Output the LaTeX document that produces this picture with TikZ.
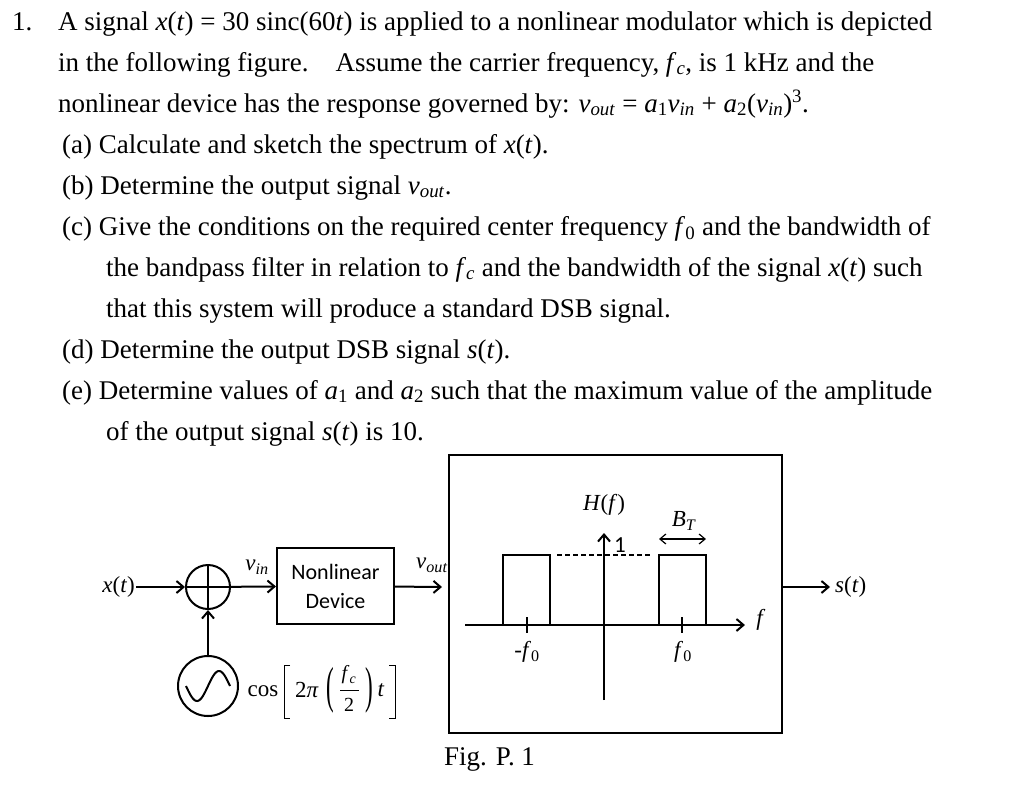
\documentclass[tikz,border=0pt]{standalone}
\usepackage{fontspec}
\setmainfont{Liberation Serif}
\setsansfont{Carlito}
\newfontfamily\labfont{Liberation Serif}
\usetikzlibrary{arrows.meta}
\newcommand{\iv}[1]{\textit{#1}}
\newcommand{\sbs}[1]{\textsubscript{#1}}
\begin{document}
\begin{tikzpicture}[x=1pt,y=-1pt,
  txt/.style={anchor=base west,inner sep=0pt,font=\rmfamily\fontsize{27}{27}\selectfont},
  lab/.style={inner sep=1pt,font=\labfont\fontsize{23}{23}\selectfont},
  ln/.style={line width=2pt},
  arr/.style={ln,-{Straight Barb[length=7pt,width=12pt,line width=2pt]}}]
\useasboundingbox (0,0) rectangle (1024,806);
\node[txt] (n1) at (12,30) {1.};
\node[txt] (l1) at (58,30) {A signal \iv{x}(\iv{t}) = 30 sinc(60\iv{t}) is applied to a nonlinear modulator which is depicted};
\node[txt] (l2) at (58,71) {in the following figure.\quad Assume the carrier frequency, \iv{f}\sbs{\iv{c}}, is 1 kHz and the};
\node[txt] (l3) at (58,112) {nonlinear device has the response governed by: \iv{v}\sbs{\iv{out}} = \iv{a}\sbs{1}\iv{v}\sbs{\iv{in}} + \iv{a}\sbs{2}(\iv{v}\sbs{\iv{in}})\textsuperscript{3}.};
\node[txt] (l4) at (62,153) {(a) Calculate and sketch the spectrum of \iv{x}(\iv{t}).};
\node[txt] (l5) at (62,194) {(b) Determine the output signal \iv{v}\sbs{\iv{out}}.};
\node[txt] (l6) at (62,235) {(c) Give the conditions on the required center frequency \iv{f}\sbs{0} and the bandwidth of};
\node[txt] (l7) at (106,276) {the bandpass filter in relation to \iv{f}\sbs{\iv{c}} and the bandwidth of the signal \iv{x}(\iv{t}) such};
\node[txt] (l8) at (106,317) {that this system will produce a standard DSB signal.};
\node[txt] (l9) at (62,358) {(d) Determine the output DSB signal \iv{s}(\iv{t}).};
\node[txt] (l10) at (62,399) {(e) Determine values of \iv{a}\sbs{1} and \iv{a}\sbs{2} such that the maximum value of the amplitude};
\node[txt] (l11) at (106,440) {of the output signal \iv{s}(\iv{t}) is 10.};

% filter box
\node[draw,ln,minimum width=333pt,minimum height=278pt,inner sep=0pt] (bpf) at (615.5,594) {};
\node[txt] (fig) at (444,765) {Fig. P. 1};

% modulator
\node[lab,anchor=east] (x) at (136,587) {\iv{x}(\iv{t})};
\node[draw,ln,circle,minimum size=44pt,inner sep=0pt] (sum) at (208,587) {};
\draw[ln] (sum.north) -- (sum.south) (sum.west) -- (sum.east);
\node[draw,ln,circle,minimum size=60pt,inner sep=0pt] (osc) at (208,686) {};
\draw[ln] plot[domain=-22:22,samples=40] ({208+\x},{686-15*sin(\x*8.18)});
\node[draw,ln,minimum width=117pt,minimum height=76pt,inner sep=0pt,align=center,font=\sffamily\fontsize{22}{29}\selectfont] (nl) at (335.5,586) {Nonlinear\\Device};
\draw[arr] (x) -- (sum);
\draw[arr] (osc) -- (sum);
\draw[arr] (sum) -- (nl);
\coordinate (vo) at (442,587);
\draw[arr] (nl) -- (vo);
\node[lab] (vin) at (257,567) {\iv{v}\sbs{\iv{in}}};
\node[lab] (vout) at (432,565) {\iv{v}\sbs{\iv{out}}};
% cos[2 pi (fc/2) t]
\node[lab] (cos) at (263,691) {cos};
\draw[line width=1pt] (290,665) -- (284,665) -- (284,718) -- (290,718);
\draw[line width=1pt] (389,665) -- (395,665) -- (395,718) -- (389,718);
\node[lab] (tpi) at (307,690) {2\iv{π}};
\node[lab] (lp) at (330,690) {\scalebox{1}[2.2]{(}};
\node[lab] (rp) at (369,690) {\scalebox{1}[2.2]{)}};
\node[lab,font=\labfont\fontsize{20}{20}\selectfont] (fc) at (349,675) {\iv{f}\sbs{\iv{c}}};
\draw[line width=1pt] (340,690) -- (359,690);
\node[lab,font=\labfont\fontsize{20}{20}\selectfont] (two) at (349,705) {2};
\node[lab] (tt) at (381,690) {\iv{t}};

% spectrum
\coordinate (ax0) at (465,625);
\coordinate (ax1) at (745,625);
\coordinate (ay0) at (604,700);
\coordinate (ay1) at (604,533);
\draw[arr] (ax0) -- (ax1);
\draw[arr] (ay0) -- (ay1);
\draw[ln] (503,625) -- (503,555) -- (550,555) -- (550,625);
\draw[ln] (659,625) -- (659,555) -- (706,555) -- (706,625);
\draw[line width=1.5pt,dash pattern=on 5pt off 3pt] (557,555) -- (652,555);
\draw[ln] (527,617) -- (527,633) (682,617) -- (682,633);
\node[lab] (mf0) at (527,652) {-\iv{f}\sbs{0}};
\node[lab] (pf0) at (683,652) {\iv{f}\sbs{0}};
\node[lab] (f) at (761,620) {\iv{f}};
\node[lab] (one) at (620,545) {\sffamily 1};
\node[lab] (H) at (604,505) {\iv{H}(\iv{f})};
\coordinate (bt0) at (659,539);
\coordinate (bt1) at (706,539);
\draw[line width=1.2pt,{Straight Barb[length=6pt,width=10pt]}-{Straight Barb[length=6pt,width=10pt]}] (bt0) -- (bt1);
\node[lab] (BT) at (684,521) {\iv{B}\sbs{\iv{T}}};
\coordinate (bo) at (782,587);
\coordinate (so) at (830,587);
\draw[arr] (bo) -- (so);
\node[lab,anchor=west] (s) at (834,587) {\iv{s}(\iv{t})};
\end{tikzpicture}
\end{document}
